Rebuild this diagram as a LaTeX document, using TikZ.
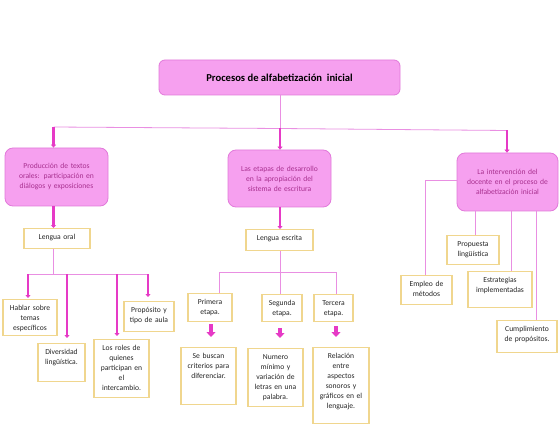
\documentclass[tikz,border=0pt]{standalone}
\usepackage{fontspec}
\setmainfont{Carlito}
\usetikzlibrary{arrows.meta,calc}
\definecolor{pfill}{HTML}{F6A0EF}
\definecolor{pdraw}{HTML}{E27ADA}
\definecolor{ptext}{HTML}{A8308F}
\definecolor{ybord}{HTML}{F0D68E}
\definecolor{thinl}{HTML}{E98FE2}
\definecolor{thickc}{HTML}{E63AC6}
\begin{document}
\begin{tikzpicture}[x=1pt,y=-1pt,
  titlebox/.style={draw=pdraw, fill=pfill, rounded corners=6pt, line width=0.8pt, minimum width=241pt, minimum height=35pt, font=\fontsize{10.6}{12}\selectfont\bfseries, text=black},
  pbox/.style={draw=pdraw, fill=pfill, rounded corners=8pt, line width=0.8pt, font=\fontsize{7.6}{10}\selectfont, text=ptext, align=center, inner sep=0pt, minimum height=58pt},
  ybox/.style={draw=ybord, fill=white, line width=1.1pt, font=\fontsize{7.6}{10}\selectfont, text=black!85, align=center, anchor=north, inner xsep=2pt, inner ysep=4pt, text height=7pt},
  thinline/.style={draw=thinl, line width=0.8pt},
  thickarrow/.style={draw=thickc, line width=2.5pt, -{Triangle[width=5pt,length=3pt]}},
  blockarrow/.style={draw=thickc, line width=4pt, -{Triangle[width=9pt,length=5pt]}},
]
\fill[white] (0,0) rectangle (560,433);
\useasboundingbox (0,0) rectangle (560,433);

% top
\node[titlebox] (title) at (279.5,77.5) {Procesos de alfabetización\ \ inicial};

% level 2
\node[pbox, minimum width=103pt, text width=98pt] (pA) at (56.5,177) {Producción de textos\\orales: participación en\\diálogos y exposiciones};
\node[pbox, minimum width=103pt, text width=98pt, minimum height=57pt] (pB) at (279.5,178.5) {Las etapas de desarrollo\\en la apropiación del\\sistema de escritura};
\node[pbox, minimum width=101pt, text width=96pt] (pC) at (507.5,182) {La intervención del\\docente en el proceso de\\alfabetización inicial};

% yellow boxes
\node[ybox, text width=62pt, text depth=5pt] (oral) at (57,228) {Lengua oral};
\node[ybox, text width=63pt, text depth=6pt] (escrita) at (279.5,229) {Lengua escrita};
\node[ybox, text width=50pt, text depth=21pt] (hablar) at (30,299) {Hablar sobre\\temas\\específicos};
\node[ybox, text width=46pt, text depth=15pt] (proposito) at (149,301) {Propósito y\\tipo de aula};
\node[ybox, text width=43pt, text depth=23pt] (diversidad) at (61.5,343) {Diversidad\\lingüística.};
\node[ybox, text width=51pt, text depth=43pt] (roles) at (121.5,339) {Los roles de\\quienes\\participan en\\el\\intercambio.};
\node[ybox, text width=40pt, text depth=13pt] (primera) at (210,293) {Primera\\etapa.};
\node[ybox, text width=36pt, text depth=12pt] (segunda) at (282,294) {Segunda\\etapa.};
\node[ybox, text width=35pt, text depth=12pt] (tercera) at (333.5,294) {Tercera\\etapa.};
\node[ybox, text width=51pt, text depth=42pt] (buscan) at (208.5,347) {Se buscan\\criterios para\\diferenciar.};
\node[ybox, text width=51pt, text depth=43pt] (numero) at (275.5,348) {Numero\\mínimo y\\variación de\\letras en una\\palabra.};
\node[ybox, text width=52pt, text depth=61pt] (relacion) at (341,347) {Relación\\entre\\aspectos\\sonoros y\\gráficos en el\\lenguaje.};
\node[ybox, text width=47pt, text depth=14pt] (empleo) at (426.5,275) {Empleo de\\métodos};
\node[ybox, text width=48pt, text depth=14pt] (propuesta) at (473,235) {Propuesta\\lingüística};
\node[ybox, text width=60pt, text depth=21pt] (estrategias) at (500,271) {Estrategias\\implementadas};
\node[ybox, text width=56pt, text depth=17pt] (cumplimiento) at (527,320) {Cumplimiento\\de propósitos.};

% top bus
\coordinate (busL) at (53.5,127);
\coordinate (busM) at (280,128.5);
\coordinate (busR) at (507,130.5);
\draw[thinline] (title.south -| busM) -- (busM);
\draw[thinline] (busL) -- (busM) -- (busR);
\draw[thickarrow] (busL) -- (pA.north -| busL);
\draw[thickarrow] (busM) -- (pB.north -| busM);
\draw[thickarrow] (busR) -- (pC.north -| busR);

% level 2 to lengua
\draw[thickarrow] (pA.south -| busL) -- (oral.north -| busL);
\draw[thickarrow] (pB.south -| busM) -- (escrita.north -| busM);

% left branch
\coordinate (lb1) at (28,274);
\coordinate (lb2) at (67,274);
\coordinate (lb3) at (117,274);
\coordinate (lb4) at (148,274);
\draw[thinline] (oral.south -| busL) -- (busL |- lb1);
\draw[thinline] (lb1) -- (lb4);
\draw[thickarrow, shorten >=1pt] (lb1) -- (hablar.north -| lb1);
\draw[thickarrow, shorten >=5pt] (lb2) -- (diversidad.north -| lb2);
\draw[thickarrow, shorten >=3pt] (lb3) -- (roles.north -| lb3);
\draw[thickarrow, shorten >=4pt] (lb4) -- (proposito.north -| lb4);

% middle branch
\coordinate (mb1) at (219,272);
\coordinate (mb2) at (280,272);
\coordinate (mb3) at (336,272);
\draw[thinline] (escrita.south -| mb2) -- (mb2);
\draw[thinline] (mb1) -- (mb3);
\draw[thinline] (mb1) -- (primera.north -| mb1);
\draw[thinline] (mb2) -- (segunda.north -| mb2);
\draw[thinline] (mb3) -- (tercera.north -| mb3);
\coordinate (ba1) at (211,0);
\coordinate (ba2) at (280,0);
\coordinate (ba3) at (336,0);
\draw[blockarrow, shorten <=2pt, shorten >=10pt] (primera.south -| ba1) -- (buscan.north -| ba1);
\draw[blockarrow, shorten <=6pt, shorten >=10pt] (segunda.south -| ba2) -- (numero.north -| ba2);
\draw[blockarrow, shorten <=4pt, shorten >=10pt] (tercera.south -| ba3) -- (relacion.north -| ba3);

% right branch
\coordinate (r0) at (425,180);
\coordinate (r1) at (475,0);
\coordinate (r2) at (511,0);
\coordinate (r3) at (536,0);
\draw[thinline] (pC.west |- r0) -- (r0) -- (empleo.north -| r0);
\draw[thinline] (pC.south -| r1) -- (propuesta.north -| r1);
\draw[thinline] (pC.south -| r2) -- (estrategias.north -| r2);
\draw[thinline] (pC.south -| r3) -- (cumplimiento.north -| r3);
\end{tikzpicture}
\end{document}
